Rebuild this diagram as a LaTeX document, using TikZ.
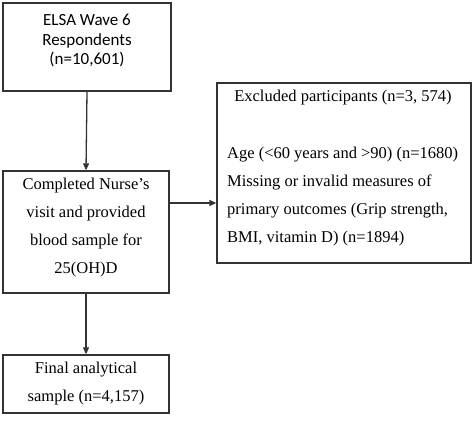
\documentclass[tikz,border=0pt]{standalone}
\usepackage{fontspec}
\setmainfont{Liberation Serif}
\newfontfamily\calib{Carlito}
\usetikzlibrary{arrows.meta}
\tikzset{
  box/.style={draw=black!80, line width=1.3pt, rectangle, inner sep=0pt},
  txt/.style={inner sep=0pt, align=center},
  arr/.style={draw=black!80, line width=1.3pt, -{Triangle[length=7pt,width=6pt]}}
}
\begin{document}
\begin{tikzpicture}[x=1pt,y=1pt]
\useasboundingbox (0,0) rectangle (474,427);
% boxes
\node[box, minimum width=168pt, minimum height=88pt] (b1) at (87,380) {};
\node[box, minimum width=166pt, minimum height=122pt] (b2) at (86,195) {};
\node[box, minimum width=254pt, minimum height=180pt] (b3) at (344,254) {};
\node[box, minimum width=166pt, minimum height=58pt] (b4) at (86,43) {};
% texts
\node[txt, font=\calib\fontsize{17}{19.5}\selectfont] (t1) at (87,386.5) {ELSA Wave 6\\Respondents\\(n=10,601)};
\node[txt, font=\fontsize{16.5}{28}\selectfont] (t2) at (86,199.5) {Completed Nurse’s\\visit and provided\\blood sample for\\25(OH)D};
\node[txt, font=\fontsize{16.5}{28}\selectfont] (t3a) at (343,329) {Excluded participants (n=3, 574)};
\node[txt, align=left, anchor=west, font=\fontsize{16.5}{28}\selectfont] (t3b) at (227,230.5) {Age (<60 years and >90) (n=1680)\\Missing or invalid measures of\\primary outcomes (Grip strength,\\BMI, vitamin D) (n=1894)};
\node[txt, font=\fontsize{16.5}{28}\selectfont] (t4) at (86,43) {Final analytical\\sample (n=4,157)};
% arrows
\coordinate (ay) at (0,224);
\draw[arr] (b1.south) -- (b2.north);
\draw[arr] (b2.east |- ay) -- (b3.west |- ay);
\draw[arr] (b2.south) -- (b4.north);
\end{tikzpicture}
\end{document}
